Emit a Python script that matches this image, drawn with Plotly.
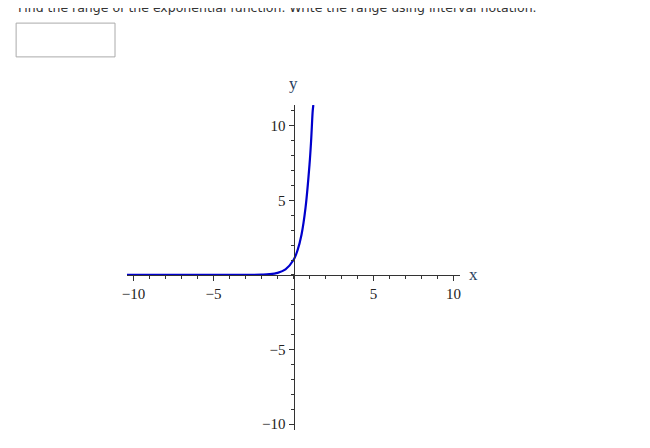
import plotly.graph_objects as go

# curve points
curve_x = [-10.4, -4, -3, -2, -1.5, -1, -0.5, 0, 0.25, 0.5, 0.75, 1.0, 1.1, 1.2, 1.24]
curve_y = [0, 0, 0, 0.02, 0.05, 0.14, 0.37, 1.0, 1.65, 2.7, 4.5, 7.4, 9.0, 11.0, 11.4]

x_ticks = [-10, -5, 5, 10]
y_ticks = [-10, -5, 5, 10]
x_labels = ["\u221210", "\u22125", "5", "10"]
y_labels = ["\u221210", "\u22125", "5", "10"]

question = "Find the range of the exponential function. Write the range using interval notation."

fig = go.Figure()
fig.add_trace(go.Scatter(x=curve_x, y=curve_y, mode="lines",
                         line=dict(color="#0000cc", width=2.2, shape="spline")))

axis_font = dict(family="Liberation Serif", size=15, color="#222")
fig.update_xaxes(range=[-10.4, 10.4], anchor="free", position=0.477,
                 showgrid=False, zeroline=False, showline=True, linecolor="#333", linewidth=1,
                 tickvals=x_ticks, ticktext=x_labels, ticks="outside", ticklen=5, tickcolor="#333",
                 minor=dict(dtick=1, ticks="outside", ticklen=3, tickcolor="#333"),
                 tickfont=axis_font)
fig.update_yaxes(range=[-10.4, 11.4], anchor="free", position=0.5,
                 showgrid=False, zeroline=False, showline=True, linecolor="#333", linewidth=1,
                 tickvals=y_ticks, ticktext=y_labels, ticks="outside", ticklen=5, tickcolor="#333",
                 minor=dict(dtick=1, ticks="outside", ticklen=3, tickcolor="#333"),
                 tickfont=axis_font)

fig.add_annotation(text=question, xref="paper", yref="paper", x=-0.333, y=1.30,
                   xanchor="left", yanchor="middle", showarrow=False,
                   font=dict(family="DejaVu Sans", size=12.5, color="#333"))
fig.add_shape(type="rect", xref="paper", yref="paper", x0=-0.333, x1=-0.036, y0=1.148, y1=1.252,
              line=dict(color="#aaa", width=1))
fig.add_annotation(text="x", xref="paper", yref="paper", x=1.04, y=0.477, showarrow=False,
                   xanchor="center", yanchor="middle", font=dict(family="Liberation Serif", size=17))
fig.add_annotation(text="y", xref="paper", yref="paper", x=0.5, y=1.03, showarrow=False,
                   xanchor="center", yanchor="bottom", font=dict(family="Liberation Serif", size=17))

fig.update_layout(width=650, height=448, margin=dict(l=119, r=198, t=97, b=26),
                  plot_bgcolor="white", paper_bgcolor="white", showlegend=False)
fig.write_html("out.html")
